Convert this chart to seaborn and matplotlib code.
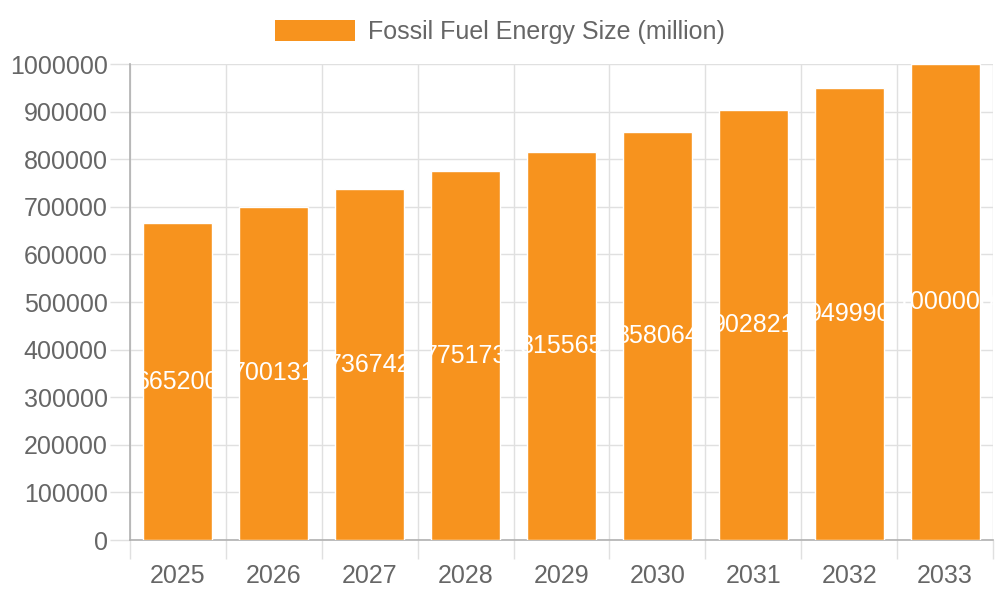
import matplotlib
matplotlib.use("Agg")
import matplotlib.pyplot as plt
import seaborn as sns
import pandas as pd
from matplotlib.patches import Patch
from matplotlib.ticker import MultipleLocator, FixedLocator, NullFormatter

years = ["2025", "2026", "2027", "2028", "2029", "2030", "2031", "2032", "2033"]
values = [665200, 700131, 736742, 775173, 815565, 858064, 902821, 949990, 1000000]
series_name = "Fossil Fuel Energy Size (million)"

bar_color = "#F7931E"
text_color = "#666666"
grid_color = "#e0e0e0"
axis_color = "#b0b0b0"

sns.set_theme(style="white")
plt.rcParams["font.family"] = ["Liberation Sans", "DejaVu Sans"]

df = pd.DataFrame({"year": years, "value": values})

fig = plt.figure(figsize=(10, 6), dpi=100)
ax = fig.add_axes([0.13, 0.10, 0.863, 0.7933])

sns.barplot(data=df, x="year", y="value", color=bar_color, saturation=1,
            width=0.72, ax=ax, zorder=3)

ax.set_xlim(-0.5, len(years) - 0.5)
ax.set_ylim(0, 1000000)
ax.yaxis.set_major_locator(MultipleLocator(100000))
ax.set_yticklabels([str(int(t)) for t in ax.get_yticks()])

# vertical grid at category boundaries
bounds = [i - 0.5 for i in range(len(years) + 1)]
ax.xaxis.set_minor_locator(FixedLocator(bounds))
ax.xaxis.set_minor_formatter(NullFormatter())
ax.tick_params(axis="x", which="both", bottom=True)
ax.tick_params(axis="y", which="both", left=True)
ax.tick_params(axis="x", which="minor", length=14, width=1, color=grid_color, direction="out")
ax.tick_params(axis="x", which="major", length=14, width=0, labelsize=18,
               labelcolor=text_color, pad=3)
ax.tick_params(axis="y", which="major", length=14.5, width=1, color=grid_color,
               labelsize=18, labelcolor=text_color, pad=1.5, direction="out")
ax.grid(True, axis="x", which="minor", color=grid_color, linewidth=1, zorder=0)
ax.grid(True, axis="y", which="major", color=grid_color, linewidth=1, zorder=0)
ax.set_axisbelow(True)

for s in ["top", "right"]:
    ax.spines[s].set_visible(False)
for s in ["left", "bottom"]:
    ax.spines[s].set_color(axis_color)
    ax.spines[s].set_linewidth(1.2)

ax.set_xlabel("")
ax.set_ylabel("")

for i, v in enumerate(values):
    ax.text(i, v / 2, str(v), ha="center", va="center", color="white",
            fontsize=18, zorder=5, clip_on=False)

handle = Patch(facecolor=bar_color, edgecolor="none")
fig.legend([handle], [series_name], loc="center", bbox_to_anchor=(0.5, 0.947),
           frameon=False, fontsize=18, labelcolor=text_color,
           handlelength=3.2, handleheight=0.95, handletextpad=0.5)

fig.savefig("out.png", dpi=100)
